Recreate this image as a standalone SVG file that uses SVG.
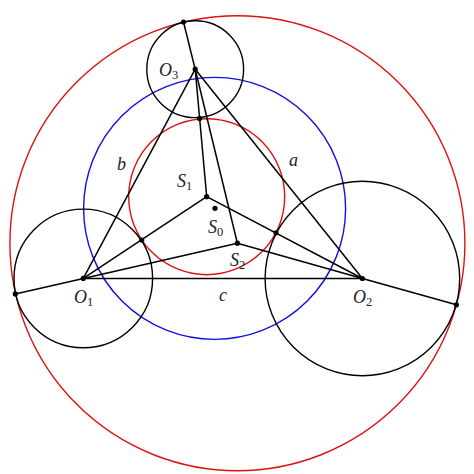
<svg xmlns="http://www.w3.org/2000/svg" width="474" height="474" viewBox="0 0 474 474">
<style>
.c{fill:none;stroke-width:1.4}
.k{stroke:#000}
.r{stroke:#e01010}
.b{stroke:#1010e0}
.l{stroke:#000;stroke-width:1.5;fill:none}
.d{fill:#000}
text{font-family:"Liberation Serif","DejaVu Serif",serif;font-style:italic;font-size:18px;fill:#222}
.s{font-style:normal;font-size:12.5px}
</style>
<rect width="474" height="474" fill="#fff"/>
<g id="circles">
<circle id="bigRed" class="c r" cx="237.4" cy="243.2" r="227.5"/>
<circle id="blue" class="c b" cx="214.6" cy="208.4" r="131"/>
<circle id="smallRed" class="c r" cx="206.7" cy="196.7" r="78"/>
<circle id="circO1" class="c k" cx="83.3" cy="278.4" r="69.3"/>
<circle id="circO2" class="c k" cx="362.4" cy="278.5" r="97.3"/>
<circle id="circO3" class="c k" cx="195.2" cy="69.2" r="48.4"/>
</g>
<g id="connectors">
<line class="l" x1="83.3" y1="278.4" x2="362.4" y2="278.5"/>
<line class="l" x1="83.3" y1="278.4" x2="195.2" y2="69.2"/>
<line class="l" x1="362.4" y1="278.5" x2="195.2" y2="69.2"/>
<line class="l" x1="206.7" y1="196.7" x2="83.3" y2="278.4"/>
<line class="l" x1="206.7" y1="196.7" x2="362.4" y2="278.5"/>
<line class="l" x1="206.7" y1="196.7" x2="195.2" y2="69.2"/>
<line class="l" x1="237.4" y1="243.2" x2="83.3" y2="278.4"/>
<line class="l" x1="83.3" y1="278.4" x2="15.3" y2="293.9"/>
<line class="l" x1="237.4" y1="243.2" x2="362.4" y2="278.5"/>
<line class="l" x1="362.4" y1="278.5" x2="456.4" y2="304.8"/>
<line class="l" x1="237.4" y1="243.2" x2="195.2" y2="69.2"/>
<line class="l" x1="195.2" y1="69.2" x2="183.5" y2="22"/>
</g>
<g id="points">
<circle class="d" cx="83.3" cy="278.4" r="2.6"/>
<circle class="d" cx="362.4" cy="278.5" r="2.6"/>
<circle class="d" cx="195.2" cy="69.2" r="2.6"/>
<circle class="d" cx="206.7" cy="196.7" r="2.6"/>
<circle class="d" cx="215" cy="208.3" r="2.6"/>
<circle class="d" cx="237.4" cy="243.2" r="2.6"/>
<circle class="d" cx="141.7" cy="240" r="2.6"/>
<circle class="d" cx="276" cy="232.8" r="2.6"/>
<circle class="d" cx="199.5" cy="118.4" r="2.6"/>
<circle class="d" cx="183.5" cy="22" r="2.6"/>
<circle class="d" cx="15.3" cy="293.9" r="2.6"/>
<circle class="d" cx="456.4" cy="304.8" r="2.6"/>
</g>
<g id="labels">
<text x="159" y="76">O<tspan class="s" dy="3">3</tspan></text>
<text x="74" y="303">O<tspan class="s" dy="3">1</tspan></text>
<text x="353" y="303">O<tspan class="s" dy="3">2</tspan></text>
<text x="177" y="187">S<tspan class="s" dy="3">1</tspan></text>
<text x="208" y="233">S<tspan class="s" dy="3">0</tspan></text>
<text x="230" y="266">S<tspan class="s" dy="3">2</tspan></text>
<text x="117" y="170">b</text>
<text x="289" y="166">a</text>
<text x="219" y="301">c</text>
</g>
</svg>
